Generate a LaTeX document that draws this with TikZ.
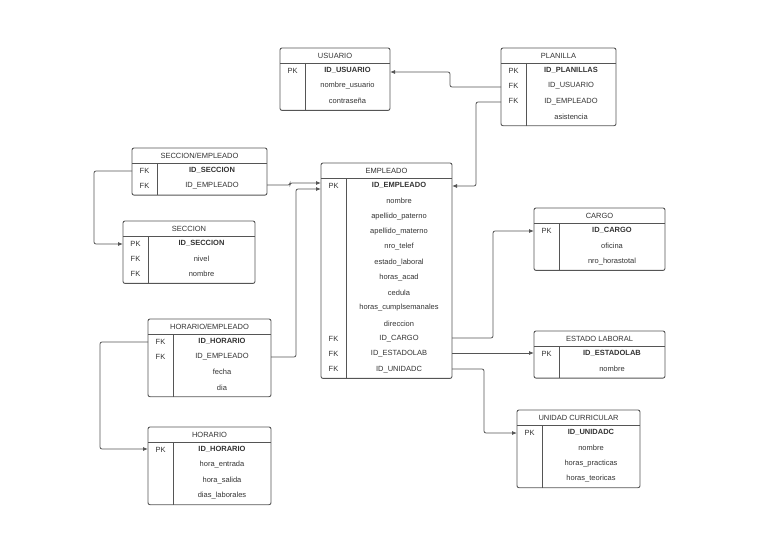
\documentclass[tikz,border=0pt]{standalone}
\usepackage{fontspec}
\setmainfont{Liberation Sans}
\usetikzlibrary{arrows.meta}
\definecolor{ln}{HTML}{555555}
\definecolor{tx}{HTML}{333333}
\tikzset{
  tbl/.style={draw=ln,line width=0.9pt,rounded corners=2pt},
  sep/.style={draw=ln,line width=0.7pt},
  ttl/.style={font=\fontsize{7.5}{8}\selectfont,text=tx,inner sep=0},
  key/.style={font=\fontsize{7.5}{8}\selectfont,text=tx,inner sep=0},
  fld/.style={font=\fontsize{7.5}{8}\selectfont,text=tx,inner sep=0},
  conn/.style={draw=ln,line width=0.8pt,rounded corners=2pt,-{Latex[length=5pt,width=4pt]}},
}
\newcommand\erbox[8]{%
  \pgfmathsetmacro\yb{#4+15+#6*15.3+1.5}
  \draw[tbl] (#2,#4) rectangle (#3,\yb);
  \draw[sep] (#2,#4+15) -- (#3,#4+15);
  \draw[sep] (#5,#4+15) -- (#5,\yb);
  \node[ttl] (#1) at ({(#2+#3)/2},#4+7.5) {#7};
  \foreach \k/\t [count=\i] in {#8} {
    \node[key] (#1-k\i) at ({(#2+#5)/2},{#4+15+(\i-0.5)*15.3}) {\k};
    \node[fld] (#1-\i) at ({(#5+#3)/2},{#4+15+(\i-0.5)*15.3}) {\t};
  }
}
\begin{document}
\begin{tikzpicture}[x=1pt,y=-1pt]
\useasboundingbox (0,0) rectangle (768,543);
\erbox{usu}{280}{390}{48}{305}{3}{USUARIO}{PK/\textbf{ID\_USUARIO},{}/nombre\_usuario,{}/contraseña}
\erbox{pla}{501}{616}{48}{526}{4}{PLANILLA}{PK/\textbf{ID\_PLANILLAS},FK/ID\_USUARIO,FK/ID\_EMPLEADO,{}/asistencia}
\erbox{se}{132}{267}{148}{157}{2}{SECCION/EMPLEADO}{FK/\textbf{ID\_SECCION},FK/ID\_EMPLEADO}
\erbox{sec}{123}{255}{221}{148}{3}{SECCION}{PK/\textbf{ID\_SECCION},FK/nivel,FK/nombre}
\erbox{he}{148}{271}{319}{173}{4}{HORARIO/EMPLEADO}{FK/\textbf{ID\_HORARIO},FK/ID\_EMPLEADO,{}/fecha,{}/dia}
\erbox{hor}{148}{271}{427}{173}{4}{HORARIO}{PK/\textbf{ID\_HORARIO},{}/hora\_entrada,{}/hora\_salida,{}/dias\_laborales}
\erbox{emp}{321}{452}{163}{346}{13}{EMPLEADO}{PK/\textbf{ID\_EMPLEADO},{}/nombre,{}/apellido\_paterno,{}/apellido\_materno,{}/nro\_telef,{}/estado\_laboral,{}/horas\_acad/adm,{}/cedula,{}/horas\_cumplsemanales,{}/direccion,FK/ID\_CARGO,FK/ID\_ESTADOLAB,FK/ID\_UNIDADC}
\erbox{car}{534}{665}{208}{559}{3}{CARGO}{PK/\textbf{ID\_CARGO},{}/oficina/ubicacion cargo,{}/nro\_horastotal}
\erbox{est}{534}{665}{331}{559}{2}{ESTADO LABORAL}{PK/\textbf{ID\_ESTADOLAB},{}/nombre}
\erbox{uni}{517}{640}{410}{542}{4}{UNIDAD CURRICULAR}{PK/\textbf{ID\_UNIDADC},{}/nombre,{}/horas\_practicas,{}/horas\_teoricas}

\coordinate (a1) at (501,87); \coordinate (a2) at (390,72);
\draw[conn] (a1) -- (450,87) -- (450,72) -- (a2);
\coordinate (b1) at (501,102); \coordinate (b2) at (452,186);
\draw[conn] (b1) -- (476,102) -- (476,186) -- (b2);
\coordinate (c1) at (267,185); \coordinate (c2) at (321,183);
\draw[conn] (c1) -- (290,185) -- (290,183) -- (c2);
\coordinate (d1) at (132,171); \coordinate (d2) at (123,244);
\draw[conn] (d1) -- (94,171) -- (94,244) -- (d2);
\coordinate (e1) at (271,357); \coordinate (e2) at (321,189);
\draw[conn] (e1) -- (296,357) -- (296,189) -- (e2);
\coordinate (f1) at (148,342); \coordinate (f2) at (148,449);
\draw[conn] (f1) -- (100,342) -- (100,449) -- (f2);
\coordinate (g1) at (452,338); \coordinate (g2) at (534,231);
\draw[conn] (g1) -- (493,338) -- (493,231) -- (g2);
\coordinate (h1) at (452,353); \coordinate (h2) at (534,353);
\draw[conn] (h1) -- (h2);
\coordinate (i1) at (452,369); \coordinate (i2) at (517,433);
\draw[conn] (i1) -- (484,369) -- (484,433) -- (i2);
\end{tikzpicture}
\end{document}
